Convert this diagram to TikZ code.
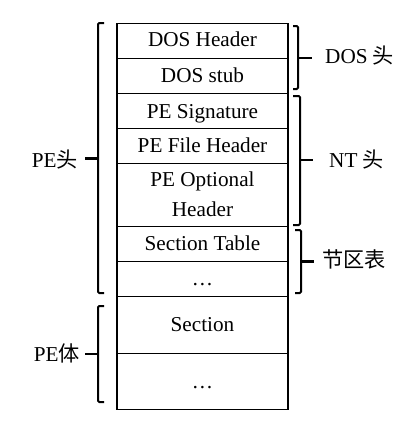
\documentclass[tikz,border=0pt]{standalone}
\usepackage{fontspec}
\setmainfont{Liberation Serif}
\newfontfamily\cjk{Noto Sans CJK SC}
\begin{document}
\begin{tikzpicture}[x=1pt,y=-1pt,
  font=\fontsize{21.2}{30}\selectfont,
  cell/.style={draw, line width=1.1pt, minimum width=171pt, inner sep=0pt,
    anchor=north, align=center, text height=15pt, text depth=1.5pt},
  brk/.style={line width=2pt, rounded corners=1.2pt},
  tick/.style={line width=2.2pt},
  lbl/.style={inner sep=0pt}]
\useasboundingbox (0,0) rectangle (413,426);
% cells
\node[cell, minimum height=35pt, text depth=4.5pt] (dosh) at (202.5,23) {DOS Header};
\node[cell, minimum height=35pt] (doss) at (202.5,58) {DOS stub};
\node[cell, minimum height=35pt, text depth=0pt] (pesig) at (202.5,93) {PE Signature};
\node[cell, minimum height=35pt] (pefh) at (202.5,128) {PE File Header};
\node[cell, minimum height=63pt, text height=, text depth=] (peoh) at (202.5,163) {};
\node[lbl, anchor=base] (peoh1) at (202.5,186) {PE Optional};
\node[lbl, anchor=base] (peoh2) at (202.5,216) {Header};
\node[cell, minimum height=35pt] (sectab) at (202.5,226) {Section Table};
\node[cell, minimum height=35pt] (dots1) at (202.5,261) {\dots};
\node[cell, minimum height=57pt] (sec) at (202.5,296) {Section};
\node[cell, minimum height=56pt] (dots2) at (202.5,353) {\dots};
% left brackets
\draw[brk] (104,23) -- (98,23) -- (98,293) -- (104,293);
\coordinate (pehT) at (85,158.5);
\draw[tick] (pehT) -- (98,158.5);
\node[lbl, anchor=base east] (peh) at (78,167) {PE{\cjk 头}};
\draw[brk] (104,306) -- (98,306) -- (98,402) -- (104,402);
\coordinate (pebT) at (85,354);
\draw[tick] (pebT) -- (98,354);
\node[lbl, anchor=base east] (peb) at (80,361) {PE{\cjk 体}};
% right brackets
\draw[brk] (293,26) -- (298,26) -- (298,89) -- (293,89);
\coordinate (dosT) at (312,58);
\draw[tick] (298,58) -- (dosT);
\node[lbl, anchor=base west] (dosl) at (325,63) {DOS {\cjk 头}};
\draw[brk] (293,96) -- (300,96) -- (300,225) -- (293,225);
\coordinate (ntT) at (313,160);
\draw[tick] (300,160) -- (ntT);
\node[lbl, anchor=base west] (ntl) at (329,167) {NT {\cjk 头}};
\draw[brk] (295,230) -- (301,230) -- (301,293) -- (295,293);
\coordinate (stT) at (314,261.5);
\draw[tick] (301,261.5) -- (stT);
\node[lbl, anchor=base west] (stl) at (322,267) {\cjk 节区表};
\end{tikzpicture}
\end{document}
